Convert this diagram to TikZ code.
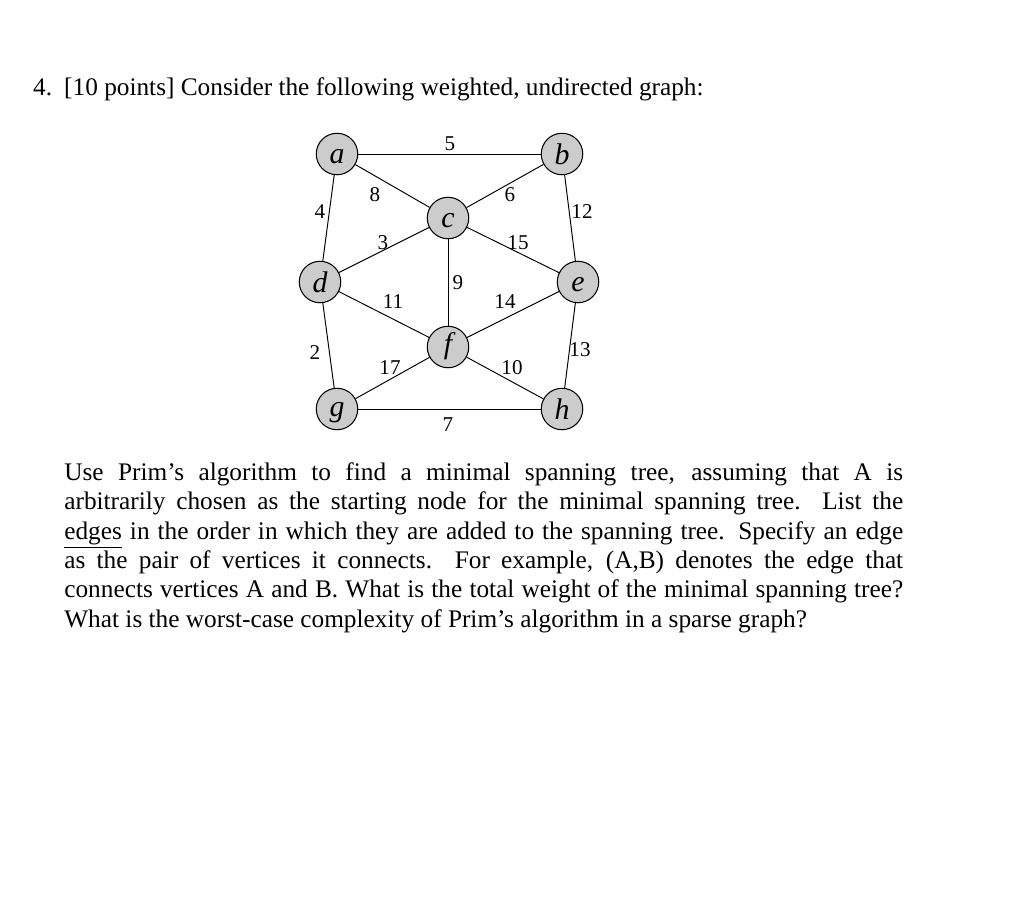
\documentclass[tikz,border=0pt]{standalone}
\usepackage{fontspec}
\setmainfont{Liberation Serif}
\usepackage{tikz}

\begin{document}
\begin{tikzpicture}[x=0.02cm,y=-0.02cm,
        vertex/.style={circle, draw, fill=black!20, line width=0.6pt, minimum size=0.83cm, inner sep=0pt, font=\fontsize{17}{17}\selectfont\itshape, text height=11pt, text depth=0pt},
        tall/.style={text height=11.6pt},
        deep/.style={text depth=3.7pt},
        wt/.style={inner sep=1pt, font=\fontsize{12}{12}\selectfont}]
        \useasboundingbox (0,0) rectangle (1010,906);
        \node[anchor=base west, font=\fontsize{14.4}{17}\selectfont] (num) at (27,95) {4.};
        \node[anchor=base west, font=\fontsize{14.4}{17}\selectfont] (title) at (58,95) {[10 points] Consider the following weighted, undirected graph:};
        % vertices
        \node[vertex] (a) at (337,154) {a};
        \node[vertex, tall] (b) at (562,154) {b};
        \node[vertex] (c) at (448,218) {c};
        \node[vertex, tall] (d) at (320,282) {d};
        \node[vertex] (e) at (578,282) {e};
        \node[vertex, tall, deep] (f) at (448,347) {f};
        \node[vertex, deep, text height=12.5pt] (g) at (337,409) {g};
        \node[vertex, tall] (h) at (562,409) {h};
        % edges
        \draw[line width=0.55pt] (a)--(b);
        \draw[line width=0.55pt] (a)--(c);
        \draw[line width=0.55pt] (b)--(c);
        \draw[line width=0.55pt] (a)--(d);
        \draw[line width=0.55pt] (b)--(e);
        \draw[line width=0.55pt] (c)--(d);
        \draw[line width=0.55pt] (c)--(e);
        \draw[line width=0.55pt] (c)--(f);
        \draw[line width=0.55pt] (d)--(f);
        \draw[line width=0.55pt] (e)--(f);
        \draw[line width=0.55pt] (d)--(g);
        \draw[line width=0.55pt] (e)--(h);
        \draw[line width=0.55pt] (f)--(g);
        \draw[line width=0.55pt] (f)--(h);
        \draw[line width=0.55pt] (g)--(h);
        % weights
        \node[wt] (w5) at (450,144) {5};
        \node[wt] (w8) at (375,195) {8};
        \node[wt] (w6) at (510,195) {6};
        \node[wt] (w4) at (320,212) {4};
        \node[wt] (w12) at (582,212) {12};
        \node[wt] (w3) at (383,243) {3};
        \node[wt] (w15) at (518,243) {15};
        \node[wt] (w9) at (458,283) {9};
        \node[wt] (w11) at (393,302) {11};
        \node[wt] (w14) at (505,302) {14};
        \node[wt] (w2) at (315,353) {2};
        \node[wt] (w13) at (580,350) {13};
        \node[wt] (w17) at (390,368) {17};
        \node[wt] (w10) at (512,368) {10};
        \node[wt] (w7) at (448,425) {7};
        % question
        \node[anchor=north west, inner sep=0pt, text width=16.78cm, align=justify, font=\fontsize{14.4}{16.75}\selectfont] (quest) at (64,462)
        {Use Prim's algorithm to find a minimal spanning tree, assuming that A is\linebreak
        arbitrarily chosen as the starting node for the minimal spanning tree.\ \ List the\linebreak
        \underline{edges} in the order in which they are added to the spanning tree. Specify an edge\linebreak
        as the pair of vertices it connects.\ \ For example, (A,B) denotes the edge that\linebreak
        connects vertices A and B. What is the total weight of the minimal spanning tree?\linebreak
        What is the worst-case complexity of Prim's algorithm in a sparse graph?};
\end{tikzpicture}
\end{document}
